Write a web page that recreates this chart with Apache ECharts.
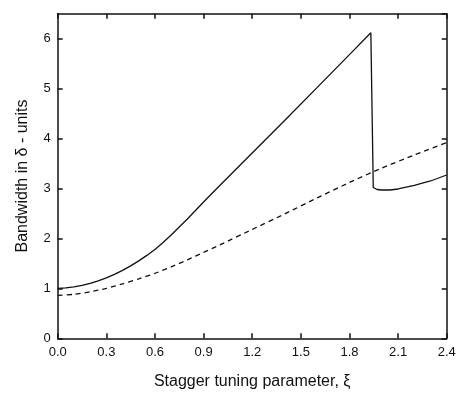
<!DOCTYPE html>
<html>
<head>
<meta charset="utf-8">
<script src="https://cdn.jsdelivr.net/npm/echarts@6/dist/echarts.min.js"></script>
<style>
html,body{margin:0;padding:0;background:#fff;}
#c{width:474px;height:397px;}
</style>
</head>
<body>
<div id="c"></div>
<script>
// Data
const solidX = [0, 0.05, 0.1, 0.15, 0.2, 0.25, 0.3, 0.35, 0.4, 0.45, 0.5, 0.55, 0.6, 0.65, 0.7, 0.75, 0.8, 0.9, 1.0, 1.2, 1.4, 1.6, 1.8, 1.932, 1.947, 1.97, 2.0, 2.05, 2.1, 2.2, 2.3, 2.4];
const solidY = [1.00, 1.01, 1.03, 1.06, 1.10, 1.15, 1.21, 1.28, 1.36, 1.45, 1.55, 1.66, 1.78, 1.92, 2.07, 2.23, 2.39, 2.73, 3.06, 3.71, 4.36, 5.02, 5.68, 6.12, 3.02, 2.98, 2.97, 2.97, 2.99, 3.06, 3.15, 3.27];
const dashX = [0, 0.1, 0.2, 0.3, 0.4, 0.5, 0.6, 0.7, 0.8, 0.9, 1.0, 1.2, 1.4, 1.6, 1.8, 2.0, 2.2, 2.4];
const dashY = [0.86, 0.88, 0.93, 1.00, 1.09, 1.19, 1.30, 1.43, 1.57, 1.72, 1.87, 2.18, 2.49, 2.81, 3.12, 3.41, 3.67, 3.92];
const xTicks = ['0.0', '0.3', '0.6', '0.9', '1.2', '1.5', '1.8', '2.1', '2.4'];
const yTicks = ['0', '1', '2', '3', '4', '5', '6'];
const xTitle = 'Stagger tuning parameter, ξ';
const yTitle = 'Bandwidth in δ - units';

const font = 'Liberation Sans, Arial, sans-serif';
const axisLine = {show: true, onZero: false, lineStyle: {color: '#111', width: 1.5}};
const tick = {show: true, inside: true, length: 5, lineStyle: {color: '#111', width: 1.5}};

const chart = echarts.init(document.getElementById('c'), null, {renderer: 'canvas'});
chart.setOption({
  animation: false,
  backgroundColor: '#fff',
  grid: {left: 57.7, right: 27.3, top: 13.7, bottom: 58.7, containLabel: false},
  xAxis: [
    {
      type: 'value', position: 'bottom', min: 0, max: 2.4, interval: 0.3,
      axisLine: axisLine, axisTick: tick, splitLine: {show: false},
      axisLabel: {color: '#111', fontFamily: font, fontSize: 13, margin: 8,
        formatter: v => { const i = Math.round(v / 0.3); return xTicks[i] !== undefined ? xTicks[i] : ''; }},
      name: xTitle, nameLocation: 'middle', nameGap: 35,
      nameTextStyle: {color: '#111', fontFamily: font, fontSize: 16}
    },
    {
      type: 'value', position: 'top', min: 0, max: 2.4, interval: 0.3,
      axisLine: axisLine, axisTick: tick, splitLine: {show: false}, axisLabel: {show: false}
    }
  ],
  yAxis: [
    {
      type: 'value', position: 'left', min: 0, max: 6.5, interval: 1,
      axisLine: axisLine, axisTick: tick, splitLine: {show: false},
      axisLabel: {color: '#111', fontFamily: font, fontSize: 13, margin: 7, showMaxLabel: false,
        formatter: v => { const i = Math.round(v); return (Math.abs(v - i) < 1e-6 && yTicks[i] !== undefined) ? yTicks[i] : ''; }},
      name: yTitle, nameLocation: 'middle', nameGap: 27,
      nameTextStyle: {color: '#111', fontFamily: font, fontSize: 16}
    },
    {
      type: 'value', position: 'right', min: 0, max: 6.5, interval: 1,
      axisLine: axisLine, axisTick: tick, splitLine: {show: false}, axisLabel: {show: false}
    }
  ],
  series: [
    {
      type: 'line', xAxisIndex: 0, yAxisIndex: 0, symbol: 'none', smooth: false,
      data: solidX.map((x, i) => [x, solidY[i]]),
      lineStyle: {color: '#111', width: 1.3}
    },
    {
      type: 'line', xAxisIndex: 0, yAxisIndex: 0, symbol: 'none', smooth: 0.2,
      data: dashX.map((x, i) => [x, dashY[i]]),
      lineStyle: {color: '#111', width: 1.3, type: [5, 4]}
    }
  ]
});
</script>
</body>
</html>
